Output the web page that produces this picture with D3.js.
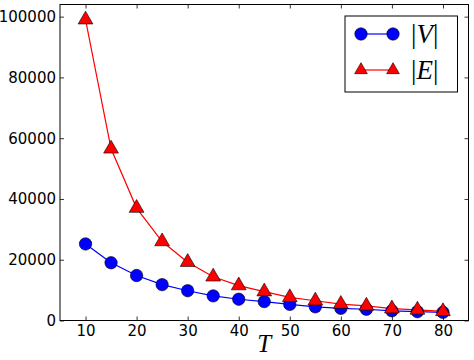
<!DOCTYPE html>
<html><head><meta charset="utf-8">
<script src="https://cdn.jsdelivr.net/npm/d3@7"></script>
<style>body{margin:0;background:#fff}</style>
</head><body>
<script>
const T = [10,15,20,25,30,35,40,45,50,55,60,65,70,75,80];
const V = [25200,19000,14800,11800,9800,8100,7000,6200,5300,4500,4000,3700,3200,2900,2700];
const E = [99000,56500,37000,26000,19200,14400,11500,9500,7600,6500,5400,4800,3900,3500,3000];
const xTicks = [10,20,30,40,50,60,70,80];
const yTicks = [0,20000,40000,60000,80000,100000];

const W=474,H=360;
const m={l:60,r:5.5,t:4.5,b:39.5};
const svg=d3.select("body").append("svg").attr("width",W).attr("height",H);
const x=d3.scaleLinear().domain([5,85]).range([m.l,W-m.r]);
const y=d3.scaleLinear().domain([0,104000]).range([H-m.b,m.t]);

const g=svg.append("g");
const line=(arr)=>d3.line().x((d,i)=>x(T[i])).y(d=>y(d))(arr);
g.append("path").attr("d",line(V)).attr("fill","none").attr("stroke","#0000ff").attr("stroke-width",1.2);
g.append("path").attr("d",line(E)).attr("fill","none").attr("stroke","#ff0000").attr("stroke-width",1.2);
const tri=d3.symbol().type(d3.symbolTriangle).size(95);
g.selectAll("circle.v").data(V).enter().append("circle")
  .attr("cx",(d,i)=>x(T[i])).attr("cy",d=>y(d)).attr("r",6.2)
  .attr("fill","#0000ff").attr("stroke","#000").attr("stroke-width",0.6);
g.selectAll("path.e").data(E).enter().append("path")
  .attr("d",tri).attr("transform",(d,i)=>`translate(${x(T[i])},${y(d)})`)
  .attr("fill","#ff0000").attr("stroke","#000").attr("stroke-width",0.6);

svg.append("rect").attr("x",m.l).attr("y",m.t).attr("width",W-m.r-m.l).attr("height",H-m.b-m.t)
  .attr("fill","none").attr("stroke","#000").attr("stroke-width",1);
svg.append("g").attr("transform",`translate(0,${H-m.b})`)
  .call(d3.axisBottom(x).tickValues(xTicks).tickSizeInner(-4).tickSizeOuter(0).tickPadding(5));
svg.append("g").attr("transform",`translate(0,${m.t})`)
  .call(d3.axisTop(x).tickValues(xTicks).tickSizeInner(-4).tickSizeOuter(0).tickFormat(""));
svg.append("g").attr("transform",`translate(${m.l},0)`)
  .call(d3.axisLeft(y).tickValues(yTicks).tickSizeInner(-4).tickSizeOuter(0).tickPadding(4).tickFormat(d3.format("d")));
svg.append("g").attr("transform",`translate(${W-m.r},0)`)
  .call(d3.axisRight(y).tickValues(yTicks).tickSizeInner(-4).tickSizeOuter(0).tickFormat(""));
svg.selectAll(".domain").remove();
svg.selectAll(".tick line").attr("stroke","#000").attr("stroke-width",0.8);
svg.selectAll(".tick text").attr("font-family","DejaVu Sans").attr("font-size",15).attr("fill","#000");

svg.append("text").attr("x",(m.l+W-m.r)/2).attr("y",352).attr("text-anchor","middle")
  .attr("font-family","Liberation Serif").attr("font-style","italic").attr("font-size",25).text("T");

const lg=svg.append("g");
lg.append("rect").attr("x",345).attr("y",16).attr("width",112.5).attr("height",76)
  .attr("fill","#fff").attr("stroke","#000").attr("stroke-width",1);
const items=[{c:"#0000ff",k:"c",t:"V",y:34},{c:"#ff0000",k:"t",t:"E",y:70}];
items.forEach(it=>{
  lg.append("line").attr("x1",361).attr("x2",393).attr("y1",it.y).attr("y2",it.y).attr("stroke",it.c).attr("stroke-width",1.2);
  [361,393].forEach(px=>{
    if(it.k==="c") lg.append("circle").attr("cx",px).attr("cy",it.y).attr("r",6.2).attr("fill",it.c).attr("stroke","#000").attr("stroke-width",0.6);
    else lg.append("path").attr("d",d3.symbol().type(d3.symbolTriangle).size(70)).attr("transform",`translate(${px},${it.y})`).attr("fill",it.c).attr("stroke","#000").attr("stroke-width",0.6);
  });
  const tx=lg.append("text").attr("x",411).attr("y",it.y+9).attr("font-family","Liberation Serif").attr("font-size",27);
  tx.append("tspan").text("|");
  tx.append("tspan").attr("font-style","italic").text(it.t);
  tx.append("tspan").text("|");
});
</script>
</body></html>
